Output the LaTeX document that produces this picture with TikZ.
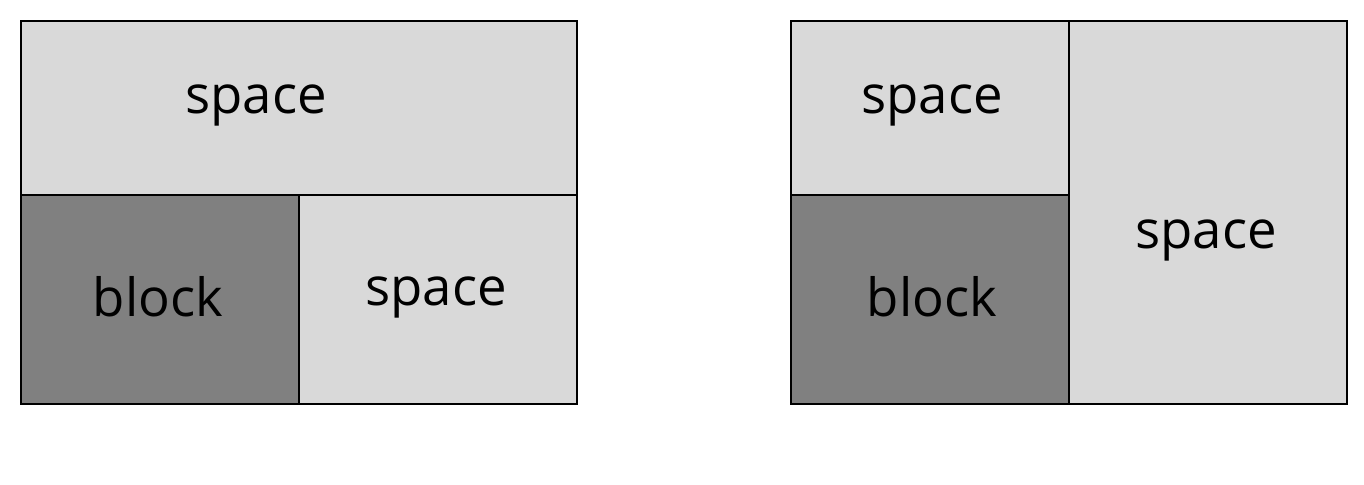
\documentclass[tikz,border=0pt]{standalone}
\usepackage{fontspec}
\setmainfont{Open Sans}
\definecolor{spacegray}{HTML}{D9D9D9}
\definecolor{blockgray}{HTML}{808080}
\tikzset{
  cell/.style={draw=black, line width=0.6pt, inner sep=0pt, font=\fontsize{30}{36}\selectfont},
  spacecell/.style={cell, fill=spacegray},
  blockcell/.style={cell, fill=blockgray}
}
\begin{document}
\begin{tikzpicture}[x=0.02cm,y=-0.02cm]
  \useasboundingbox (0,0) rectangle (1364,484);
  % left layout
  \draw[spacecell] (21,21) rectangle (577,195);
  \node at (256,105) [font=\fontsize{30}{36}\selectfont] (lspacetop) {space};
  \draw[blockcell] (21,195) rectangle (299,404);
  \node at (158,297) [font=\fontsize{30}{36}\selectfont] (lblock) {block};
  \draw[spacecell] (299,195) rectangle (577,404);
  \node at (436,297) [font=\fontsize{30}{36}\selectfont] (lspaceright) {space};
  % right layout
  \draw[spacecell] (791,21) rectangle (1069,195);
  \node at (932,105) [font=\fontsize{30}{36}\selectfont] (rspacetop) {space};
  \draw[blockcell] (791,195) rectangle (1069,404);
  \node at (932,297) [font=\fontsize{30}{36}\selectfont] (rblock) {block};
  \draw[spacecell] (1069,21) rectangle (1347,404);
  \node at (1206,240) [font=\fontsize{30}{36}\selectfont] (rspaceright) {space};
\end{tikzpicture}
\end{document}
